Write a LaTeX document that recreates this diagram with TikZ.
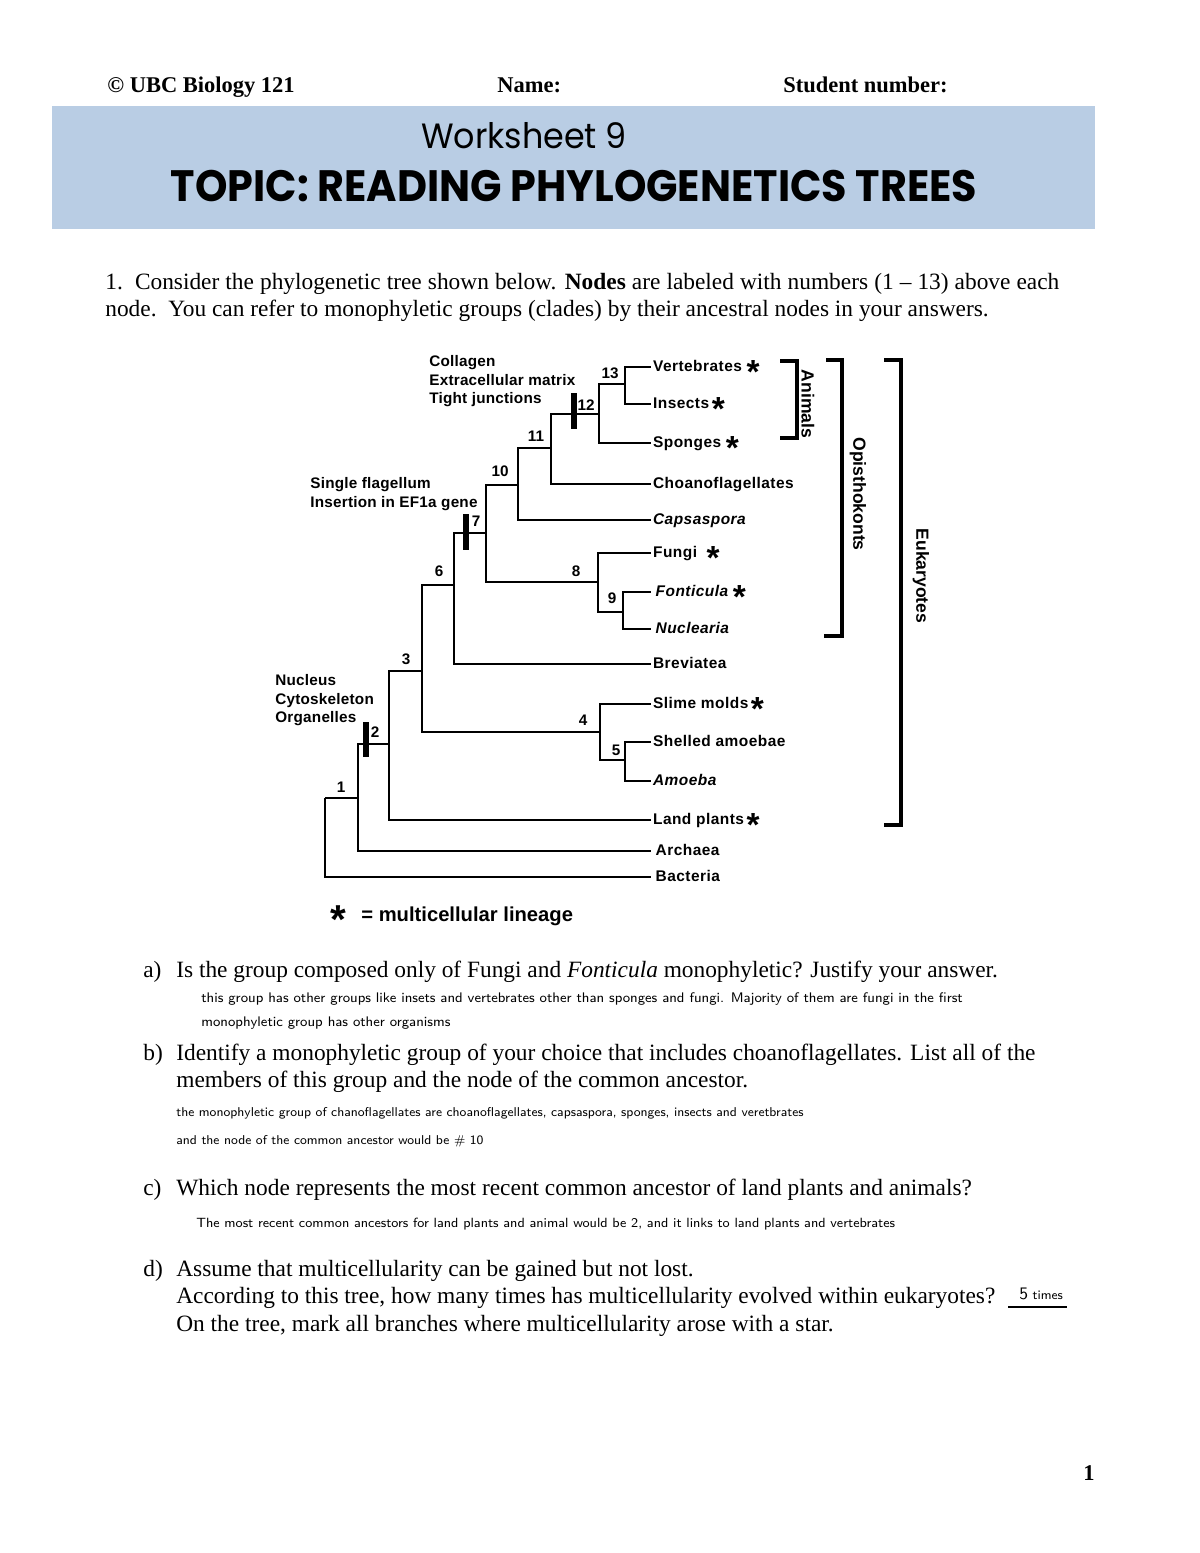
\documentclass[tikz,border=0pt]{standalone}
\usepackage{fontspec}
\setmainfont{Liberation Serif}
\newfontfamily\arial{Liberation Sans}
\newfontfamily\arialsp[LetterSpace=3]{Liberation Sans}
\newfontfamily\arialchr[LetterSpace=1.5]{Liberation Sans}
\newfontfamily\gothic{Poppins}
\usepackage{tikz}
\usetikzlibrary{calc}

\definecolor{headblue}{RGB}{185,205,228}
\newcommand\treefont{\arialsp\bfseries\fontsize{8.8}{10.6}\selectfont}
\newcommand\qfont{\fontsize{13.3}{16}\selectfont}
\newcommand\hdfont{\bfseries\fontsize{12.8}{15}\selectfont}
\newcommand\handfont{\sffamily\fontsize{7.3}{8}\selectfont}
\newcommand\mstar{\raisebox{-6.5pt}{\arial\bfseries\fontsize{19}{19}\selectfont *}}

\tikzset{
    branch/.style={line width=0.8pt},
    bar/.style={line width=3.4pt},
    bracket/.style={line width=1.8pt},
    leaf/.style={anchor=west, inner sep=1pt, font=\treefont, text height=1.6ex, text depth=.4ex},
    num/.style={inner sep=0pt, font=\arial\bfseries\fontsize{8.7}{10.6}\selectfont},
    chars/.style={anchor=north west, align=left, inner sep=0pt, font=\arialchr\bfseries\fontsize{8.7}{10.6}\selectfont},
    clade/.style={rotate=-90, inner sep=0pt, font=\arial\bfseries\fontsize{10}{12}\selectfont},
    qtext/.style={anchor=base west, inner sep=0pt, font=\qfont},
    hand/.style={anchor=base west, inner sep=0pt, font=\handfont},
}

\begin{document}
\begin{tikzpicture}[x=0.02cm, y=-0.02cm]
    \useasboundingbox (0,0) rectangle (1200,1553);
    \fill[white] (0,0) rectangle (1200,1553);
    % header
    \node[qtext, font=\hdfont] (course) at (107,92) {\textcopyright{} UBC Biology 121};
    \node[qtext, font=\hdfont] (name) at (497,92) {Name:};
    \node[qtext, font=\hdfont] (stnum) at (783,92) {Student number:};
    \fill[headblue] (52,106) rectangle (1095,229);
    \node[inner sep=0pt, font=\gothic\fontsize{20}{24}\selectfont] (wsheet) at (524,136) {\scalebox{0.95}[1]{Worksheet 9}};
    \node[inner sep=0pt, font=\gothic\bfseries\fontsize{25}{30}\selectfont] (topic) at (574,186) {\scalebox{0.94}[1]{TOPIC: READING PHYLOGENETICS TREES}};
    % question 1
    \node[qtext] (q1a) at (105,289) {\makebox[543pt][s]{1.\ \ Consider the phylogenetic tree shown below. \textbf{Nodes} are labeled with numbers (1 -- 13) above each}};
    \node[qtext] (q1b) at (105,316) {node.\ \ You can refer to monophyletic groups (clades) by their ancestral nodes in your answers.};
    % tree
    \coordinate (root) at (325,798);
    \coordinate (n1) at (358,798);
    \coordinate (n2) at (389,744);
    \coordinate (n3) at (422,671);
    \coordinate (n4) at (600,732);
    \coordinate (n5) at (625,760);
    \coordinate (n6) at (454,585);
    \coordinate (n7) at (486,533);
    \coordinate (n8) at (598,582);
    \coordinate (n9) at (623,612);
    \coordinate (n10) at (518,485);
    \coordinate (n11) at (551,448);
    \coordinate (n12) at (599,414);
    \coordinate (n13) at (625,384);
    \node[leaf] (vert) at (651,367) {Vertebrates \mstar};
    \node[leaf] (ins) at (651,404) {Insects\,\mstar};
    \node[leaf] (spon) at (651,443) {Sponges \mstar};
    \node[leaf] (choa) at (651,484) {Choanoflagellates};
    \node[leaf] (caps) at (651,520) {\itshape Capsaspora};
    \node[leaf] (fungi) at (651,553) {Fungi \ \mstar};
    \node[leaf] (fonti) at (651,592) {\itshape \,Fonticula \upshape\mstar};
    \node[leaf] (nucl) at (651,629) {\itshape \,Nuclearia};
    \node[leaf] (brev) at (651,664) {Breviatea};
    \node[leaf] (slime) at (651,704) {Slime molds\,\mstar};
    \node[leaf] (shell) at (651,742) {Shelled amoebae};
    \node[leaf] (amoe) at (651,781) {\itshape Amoeba};
    \node[leaf] (land) at (651,820) {Land plants\,\mstar};
    \node[leaf] (arch) at (651,851) {\,Archaea};
    \node[leaf] (bac) at (651,877) {\,Bacteria};
    \foreach \a/\b in {root/n1, root/bac.west, n1/n2, n1/arch.west, n2/n3, n2/land.west,
        n3/n6, n3/n4, n4/slime.west, n4/n5, n5/shell.west, n5/amoe.west,
        n6/n7, n6/brev.west, n7/n10, n7/n8, n8/fungi.west, n8/n9, n9/fonti.west, n9/nucl.west,
        n10/n11, n10/caps.west, n11/n12, n11/choa.west, n12/n13, n12/spon.west, n13/vert.west, n13/ins.west}
        \draw[branch] (\a) |- (\b);
    % node numbers
    \foreach \n/\x/\y in {1/341/787, 2/375/732, 3/406/659, 4/583/720, 5/616/750, 6/439/571, 7/476/521,
        8/576/571, 9/612/598, 10/500/471, 11/536/436, 12/586/405, 13/610/373}
        \node[num] (lab\n) at (\x,\y) {\n};
    % character bars
    \draw[bar] (366,722) -- (366,757);
    \draw[bar] (466,514) -- (466,550);
    \draw[bar] (574,393) -- (574,429);
    \node[chars] (traits12) at (429,355) {Collagen\\Extracellular matrix\\Tight junctions};
    \node[chars] (traits7) at (310,477) {Single flagellum\\Insertion in EF1a gene};
    \node[chars] (traits2) at (275,674) {Nucleus\\Cytoskeleton\\Organelles};
    % clade brackets
    \draw[bracket] (780,361) -| (797,438) -- (780,438);
    \draw[bracket] (826,360) -| (842,636) -- (824,636);
    \draw[bracket] (884,360) -| (901,825) -- (884,825);
    \node[clade] (animals) at (808,404) {Animals};
    \node[clade] (opis) at (858,494) {Opisthokonts};
    \node[clade] (euk) at (921,576) {Eukaryotes};
    % legend
    \node[inner sep=0pt] (lstar) at (338,920) {\raisebox{-7pt}{\arial\bfseries\fontsize{23}{23}\selectfont *}};
    \node[anchor=west, inner sep=0pt, font=\arial\bfseries\fontsize{11.5}{13}\selectfont] (legend) at (361,916) {= multicellular lineage};
    % part a
    \node[qtext] (pa) at (143,977) {a)};
    \node[qtext] (qa) at (176,977) {Is the group composed only of Fungi and \textit{Fonticula} monophyletic? Justify your answer.};
    \node[hand, font=\sffamily\fontsize{7.9}{8}\selectfont] (ha1) at (201,1002) {this group has other groups like insets and vertebrates other than sponges and fungi. Majority of them are fungi in the first};
    \node[hand, font=\sffamily\fontsize{7.9}{8}\selectfont] (ha2) at (201,1026) {monophyletic group has other organisms};
    % part b
    \node[qtext] (pb) at (143,1060) {b)};
    \node[qtext] (qb1) at (176,1060) {\makebox[489pt][s]{Identify a monophyletic group of your choice that includes choanoflagellates. List all of the}};
    \node[qtext] (qb2) at (176,1087) {members of this group and the node of the common ancestor.};
    \node[hand] (hb1) at (176,1116) {the monophyletic group of chanoflagellates are choanoflagellates, capsaspora, sponges, insects and veretbrates};
    \node[hand] (hb2) at (176,1144) {and the node of the common ancestor would be \# 10};
    % part c
    \node[qtext] (pc) at (143,1195) {c)};
    \node[qtext] (qc) at (176,1195) {Which node represents the most recent common ancestor of land plants and animals?};
    \node[hand, font=\sffamily\fontsize{7.6}{8}\selectfont] (hc) at (196,1227) {The most recent common ancestors for land plants and animal would be 2, and it links to land plants and vertebrates};
    % part d
    \node[qtext] (pd) at (143,1276) {d)};
    \node[qtext] (qd1) at (176,1276) {Assume that multicellularity can be gained but not lost.};
    \node[qtext] (qd2) at (176,1303) {According to this tree, how many times has multicellularity evolved within eukaryotes?};
    \node[qtext] (qd3) at (176,1331) {On the tree, mark all branches where multicellularity arose with a star.};
    \draw[line width=0.7pt] (1008,1307) -- (1067,1307);
    \node[hand] (hd) at (1019,1299) {{\fontsize{10}{10}\selectfont 5} times};
    % page number
    \node[qtext, font=\hdfont] (page) at (1083,1480) {1};
\end{tikzpicture}
\end{document}
